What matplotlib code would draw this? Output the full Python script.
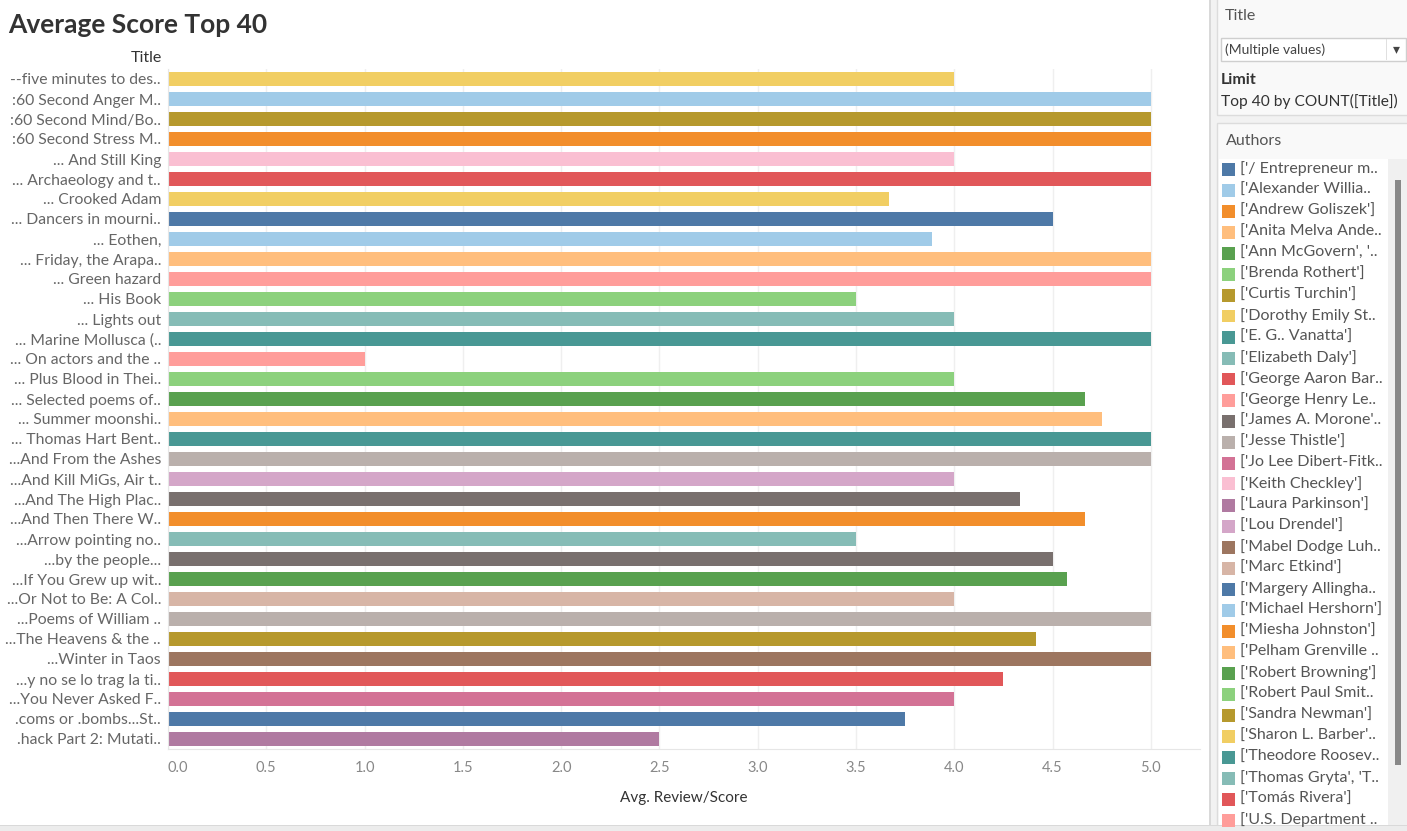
import matplotlib.pyplot as plt
from matplotlib.patches import Rectangle

# chart data
titles = [
    "--five minutes to des..", ":60 Second Anger M..", ":60 Second Mind/Bo..",
    ":60 Second Stress M..", "... And Still King", "... Archaeology and t..",
    "... Crooked Adam", "... Dancers in mourni..", "... Eothen,",
    "... Friday, the Arapa..", "... Green hazard", "... His Book",
    "... Lights out", "... Marine Mollusca (..", "... On actors and the ..",
    "... Plus Blood in Thei..", "... Selected poems of..", "... Summer moonshi..",
    "... Thomas Hart Bent..", "...And From the Ashes", "...And Kill MiGs, Air t..",
    "...And The High Plac..", "...And Then There W..", "...Arrow pointing no..",
    "...by the people...", "...If You Grew up wit..", "...Or Not to Be: A Col..",
    "...Poems of William ..", "...The Heavens & the ..", "...Winter in Taos",
    "...y no se lo trag la ti..", "...You Never Asked F..", ".coms or .bombs...St..",
    ".hack Part 2: Mutati..",
]
scores = [4.0, 5.0, 5.0, 5.0, 4.0, 5.0, 3.667, 4.5, 3.889, 5.0, 5.0, 3.5,
          4.0, 5.0, 1.0, 4.0, 4.667, 4.75, 5.0, 5.0, 4.0, 4.333, 4.667, 3.5,
          4.5, 4.571, 4.0, 5.0, 4.417, 5.0, 4.25, 4.0, 3.75, 2.5]

authors = [
    "['/ Entrepreneur m..", "['Alexander Willia..", "['Andrew Goliszek']",
    "['Anita Melva Ande..", "['Ann McGovern', '..", "['Brenda Rothert']",
    "['Curtis Turchin']", "['Dorothy Emily St..", "['E. G.. Vanatta']",
    "['Elizabeth Daly']", "['George Aaron Bar..", "['George Henry Le..",
    "['James A. Morone'..", "['Jesse Thistle']", "['Jo Lee Dibert-Fitk..",
    "['Keith Checkley']", "['Laura Parkinson']", "['Lou Drendel']",
    "['Mabel Dodge Luh..", "['Marc Etkind']", "['Margery Allingha..",
    "['Michael Hershorn']", "['Miesha Johnston']", "['Pelham Grenville ..",
    "['Robert Browning']", "['Robert Paul Smit..", "['Sandra Newman']",
    "['Sharon L. Barber'..", "['Theodore Roosev..", "['Thomas Gryta', 'T..",
    "['Tomás Rivera']", "['U.S. Department ..",
]
# author (legend index) of each bar
bar_author = [27, 21, 6, 2, 15, 10, 7, 20, 1, 3, 31, 25, 29, 8, 11, 5, 24,
              23, 28, 13, 17, 12, 22, 9, 12, 4, 19, 13, 26, 18, 30, 14, 0, 16]

tab20 = ["#4E79A7", "#A0CBE8", "#F28E2B", "#FFBE7D", "#59A14F", "#8CD17D",
         "#B6992D", "#F1CE63", "#499894", "#86BCB6", "#E15759", "#FF9D9A",
         "#79706E", "#BAB0AC", "#D37295", "#FABFD2", "#B07AA1", "#D4A6C8",
         "#9D7660", "#D7B5A6"]
author_colors = [tab20[i % 20] for i in range(len(authors))]

W, H = 1407, 831
FONT = ["Lato", "DejaVu Sans"]
plt.rcParams["font.family"] = FONT


def fx(px):
    return px / W


def fy(py):
    return 1 - py / H


fig = plt.figure(figsize=(W / 100, H / 100), dpi=100)
ax = fig.add_axes([fx(168), fy(749), 1032 / W, 680 / H])

pos = list(range(len(titles)))
ax.barh(pos, scores, height=0.7, color=[author_colors[a] for a in bar_author])
ax.set_ylim(len(titles) - 0.5, -0.5)
ax.set_xlim(0, 5.25)
ax.set_yticks(pos)
ax.set_yticklabels(titles, fontsize=11.3, color="#666666")
ticks = [i * 0.5 for i in range(11)]
ax.set_xticks(ticks)
ax.set_xticklabels([f"{t:.1f}" for t in ticks], fontsize=10.5, color="#888888")
ax.get_xticklabels()[0].set_ha("left")
ax.tick_params(length=0, pad=9)
ax.tick_params(axis="y", pad=5)
ax.grid(axis="x", color="#efefef", lw=1)
ax.set_axisbelow(True)
for s in ["top", "right"]:
    ax.spines[s].set_visible(False)
ax.spines["bottom"].set_color("#e6e6e6")
ax.spines["left"].set_color("#e6e6e6")
ax.set_xlabel("Avg. Review/Score", fontsize=11, color="#333333", labelpad=11)

fig.text(fx(8), fy(25), "Average Score Top 40", fontsize=19, fontweight="bold",
         color="#333333", va="center")
fig.text(fx(162), fy(58), "Title", fontsize=11.5, color="#333333", ha="right", va="center")

# side panel
def rect(x, y, w, h, **kw):
    fig.patches.append(Rectangle((fx(x), fy(y + h)), w / W, h / H,
                                 transform=fig.transFigure, **kw))


rect(1211, 0, 196, 831, facecolor="#f2f2f2", edgecolor="none")
rect(1209, 0, 2, 831, facecolor="#d9d9d9", edgecolor="none")
rect(1217, -2, 192, 117, facecolor="#f9f9f9", edgecolor="#dcdcdc", lw=1)
rect(1217, 123, 192, 710, facecolor="#f9f9f9", edgecolor="#dcdcdc", lw=1)
rect(1221, 38, 185, 23, facecolor="white", edgecolor="#cfcfcf", lw=1)
rect(1386, 39, 0.8, 21, facecolor="#e0e0e0", edgecolor="none")
rect(1219, 159, 169, 672, facecolor="white", edgecolor="none")
rect(1388, 159, 19, 672, facecolor="#f0f0f0", edgecolor="none")
rect(1395, 180, 6, 585, facecolor="#888888", edgecolor="none")
rect(0, 826, W, 5, facecolor="#ececec", edgecolor="none")
rect(0, 825, W, 1, facecolor="#d9d9d9", edgecolor="none")

fig.text(fx(1225), fy(16), "Title", fontsize=11.5, color="#555555", va="center")
fig.text(fx(1225), fy(50), "(Multiple values)", fontsize=10, color="#444444", va="center")
fig.text(fx(1396), fy(49), "▾", fontsize=10, color="#444444", va="center", ha="center",
         family=["DejaVu Sans"])
fig.text(fx(1221), fy(80), "Limit", fontsize=11.5, fontweight="bold", color="#333333",
         va="center")
fig.text(fx(1221), fy(101), "Top 40 by COUNT([Title])", fontsize=11.2, color="#333333",
         va="center")
fig.text(fx(1226), fy(141), "Authors", fontsize=11.5, color="#555555", va="center")

for i, (name, col) in enumerate(zip(authors, author_colors)):
    yc = 169 + i * 21
    if yc > 835:
        break
    rect(1222, yc - 6.5, 13, 13, facecolor=col, edgecolor="none")
    fig.text(fx(1240), fy(yc), name, fontsize=11.5, color="#555555", va="center")

fig.savefig("out.png", dpi=100)
